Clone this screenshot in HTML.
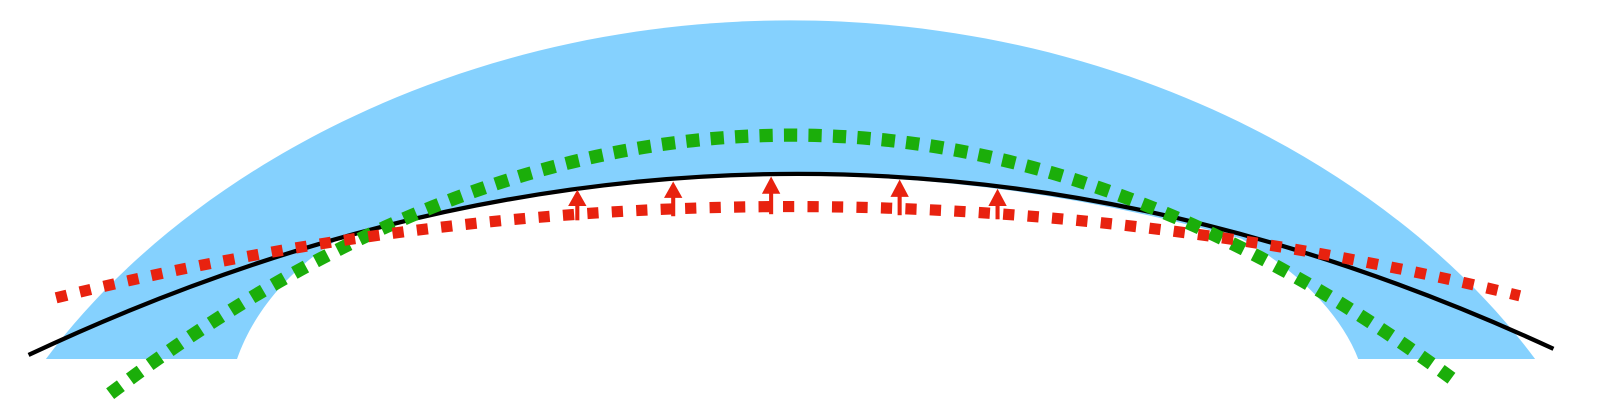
<!DOCTYPE html>
<html><head><meta charset="utf-8"><style>
html,body{margin:0;padding:0;background:#fff;width:1600px;height:406px;overflow:hidden}
svg{display:block}
</style></head><body>
<svg width="1600" height="406" viewBox="0 0 1600 406" xmlns="http://www.w3.org/2000/svg">
<rect width="1600" height="406" fill="#fff"/>
<g transform="scale(1.02)">
<path d="M45,352 C180,170 450,20 775,20 C1100,20 1370,170 1505,352 Z" fill="#85D1FE"/>
<path d="M232,353 C250,300 292,258 333,234 Q775,110 1217,234 C1260,258 1312,300 1332,353 Z" fill="#fff"/>
<path d="M28,348 Q775,-4 1523,342" fill="none" stroke="#000" stroke-width="4.2"/>
<path d="M108,386 Q770,-116 1430,376" fill="none" stroke="#1BAE0A" stroke-width="13" stroke-dasharray="13 11"/>
<path d="M55,292 Q770,114 1490,290" fill="none" stroke="#E8220F" stroke-width="11" stroke-dasharray="11 13"/>
<g fill="#E8220F" stroke="#E8220F">
<line x1="566" y1="216" x2="566" y2="198" stroke-width="4"/><polygon points="557,202 575,202 566,186" stroke="none"/>
<line x1="660" y1="212" x2="660" y2="190" stroke-width="4"/><polygon points="651,194 669,194 660,178" stroke="none"/>
<line x1="756" y1="210" x2="756" y2="186" stroke-width="4"/><polygon points="747,190 765,190 756,173" stroke="none"/>
<line x1="882" y1="211" x2="882" y2="189" stroke-width="4"/><polygon points="873,193 891,193 882,176" stroke="none"/>
<line x1="978" y1="215" x2="978" y2="198" stroke-width="4"/><polygon points="969,202 987,202 978,185" stroke="none"/>
</g>
</g>
</svg>
</body></html>
